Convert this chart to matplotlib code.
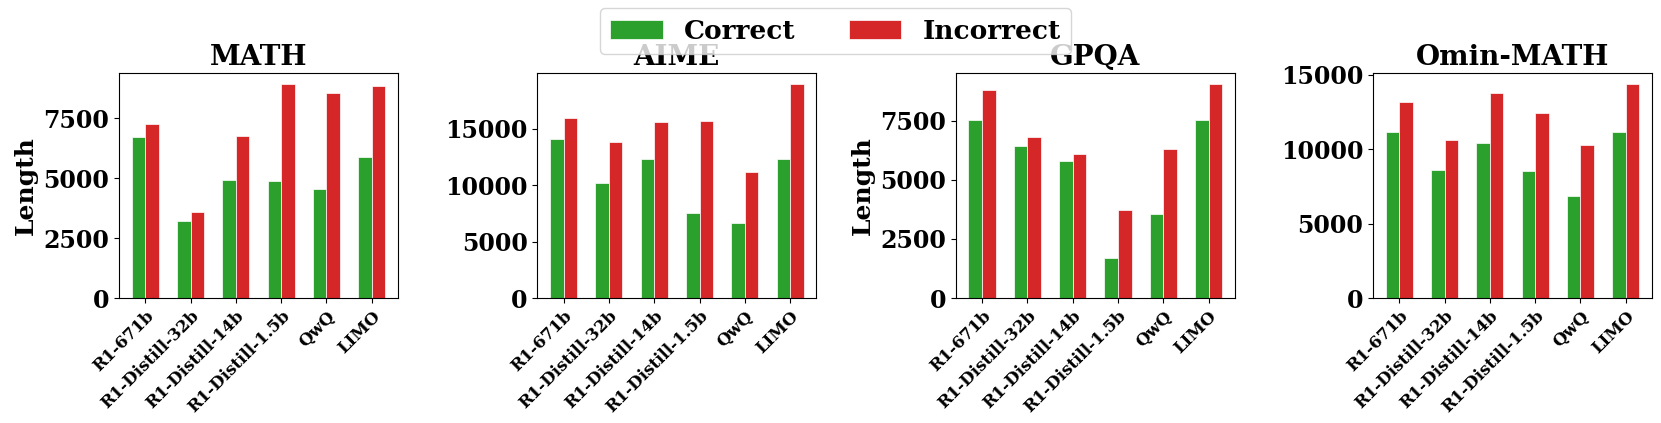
import matplotlib
matplotlib.use("Agg")
import matplotlib.pyplot as plt
import numpy as np

plt.rcParams['font.family'] = 'DejaVu Serif'
plt.rcParams['font.weight'] = 'bold'

models = ['R1-671b', 'R1-Distill-32b', 'R1-Distill-14b', 'R1-Distill-1.5b', 'QwQ', 'LIMO']
datasets = ['MATH', 'AIME', 'GPQA', 'Omin-MATH']

# average response length
math_correct = [6710, 3220, 4935, 4905, 4535, 5895]
math_incorrect = [7265, 3605, 6765, 8930, 8570, 8830]
aime_correct = [14060, 10160, 12315, 7500, 6645, 12345]
aime_incorrect = [15950, 13790, 15565, 15710, 11195, 18960]
gpqa_correct = [7540, 6415, 5780, 1700, 3560, 7515]
gpqa_incorrect = [8795, 6835, 6105, 3715, 6305, 9055]
omin_correct = [11155, 8605, 10415, 8515, 6885, 11155]
omin_incorrect = [13145, 10640, 13790, 12405, 10305, 14370]

correct = [math_correct, aime_correct, gpqa_correct, omin_correct]
incorrect = [math_incorrect, aime_incorrect, gpqa_incorrect, omin_incorrect]

fig = plt.figure(figsize=(16.61, 4.23), dpi=100)
lefts = [0.0716, 0.3235, 0.5754, 0.8266]
x = np.arange(len(models))
w = 0.3

for i, name in enumerate(datasets):
    ax = fig.add_axes([lefts[i], 0.2955, 0.168, 0.531])
    ax.bar(x - w / 2, correct[i], w, color='#2ca02c', edgecolor='white',
           linewidth=0.5, label='Correct')
    ax.bar(x + w / 2, incorrect[i], w, color='#d62728', edgecolor='white',
           linewidth=0.5, label='Incorrect')
    ax.set_title(name, fontsize=20, fontweight='bold')
    ax.set_xticks(x)
    ax.set_xticklabels(models, rotation=45, ha='right', rotation_mode='anchor',
                       fontsize=12, fontweight='bold')
    ax.tick_params(axis='y', labelsize=17)
    for lab in ax.get_yticklabels():
        lab.set_fontweight('bold')
    if i in (0, 2):
        ax.set_ylabel('Length', fontsize=18, fontweight='bold')
    if i == 0:
        handles, labels = ax.get_legend_handles_labels()

fig.legend(handles, labels, loc='upper center', bbox_to_anchor=(0.503, 0.981),
           borderaxespad=0, ncol=2, prop={'size': 19, 'weight': 'bold'})

plt.savefig('out.png', dpi=100)
